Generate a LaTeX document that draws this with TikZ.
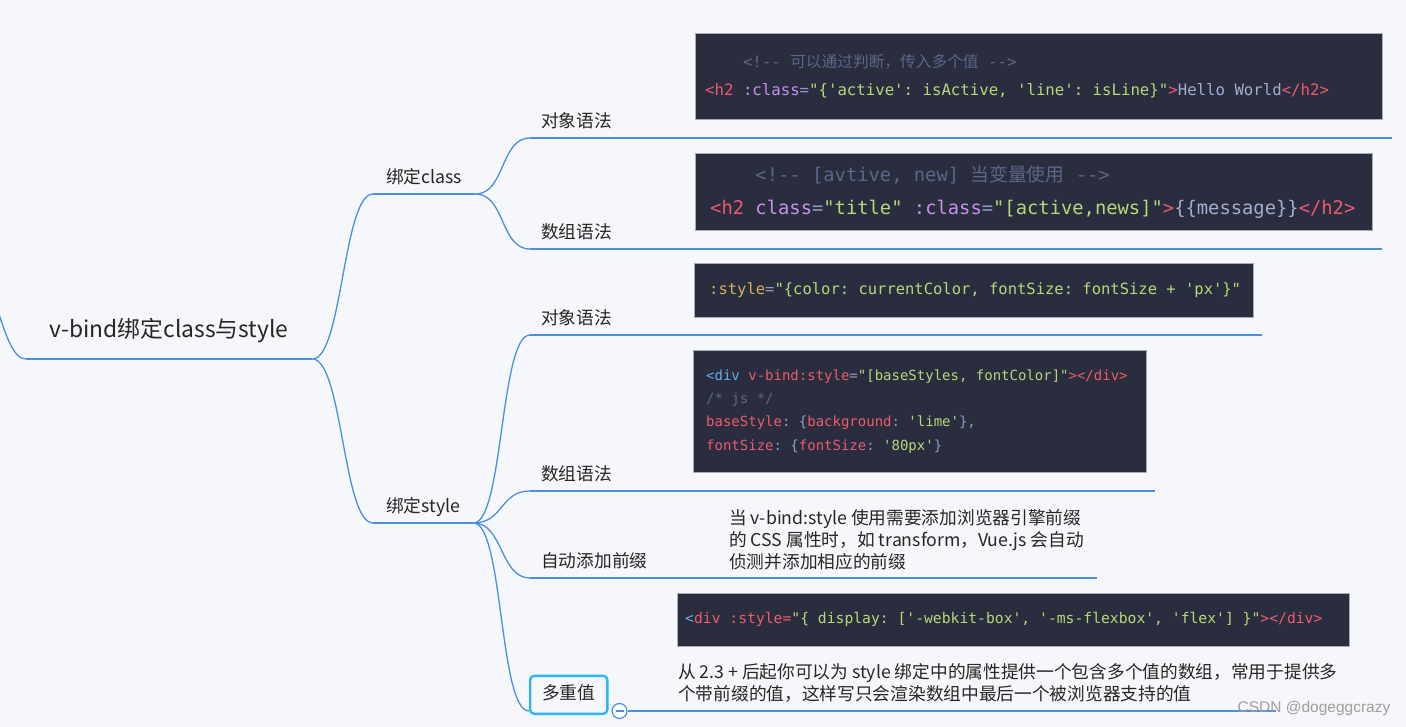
\documentclass[tikz,border=0pt]{standalone}
\usepackage{fontspec}
\setmainfont{Noto Sans CJK SC}
\setmonofont{DejaVu Sans Mono}
\newfontfamily\cjk{Noto Sans CJK SC}
\newfontfamily\wmfont{Liberation Sans}
\usetikzlibrary{positioning}

\definecolor{bgcol}{HTML}{F6F7FA}
\definecolor{linecol}{HTML}{4A8FE0}
\definecolor{labelcol}{HTML}{262626}
\definecolor{selcol}{HTML}{2DB7F5}
\definecolor{codebg}{HTML}{292D3E}
\definecolor{codeedge}{HTML}{A9ABB5}
\definecolor{ccomcol}{HTML}{5E6687}
\definecolor{credcol}{HTML}{EF5A6F}
\definecolor{cpurcol}{HTML}{C792EA}
\definecolor{cgrecol}{HTML}{B8D87A}
\definecolor{ctxtcol}{HTML}{A6ACCD}
\definecolor{cblucol}{HTML}{5FAEEA}
\definecolor{cgolcol}{HTML}{D6B25E}
\definecolor{cpuncol}{HTML}{8F9BC4}

\newcommand{\ccom}[1]{\textcolor{ccomcol}{#1}}
\newcommand{\ctag}[1]{\textcolor{credcol}{#1}}
\newcommand{\cattr}[1]{\textcolor{cpurcol}{#1}}
\newcommand{\cstr}[1]{\textcolor{cgrecol}{#1}}
\newcommand{\ctxt}[1]{\textcolor{ctxtcol}{#1}}
\newcommand{\cblu}[1]{\textcolor{cblucol}{#1}}
\newcommand{\ckey}[1]{\textcolor{cgolcol}{#1}}
\newcommand{\cpun}[1]{\textcolor{cpuncol}{#1}}

\begin{document}
\begin{tikzpicture}[x=1pt, y=-1pt,
    branch/.style={draw=linecol, line width=1.3pt},
    topic/.style={font=\fontsize{17.7}{22}\selectfont, text=labelcol, inner xsep=13pt, inner ysep=6.5pt,
      text height=13pt, text depth=4pt, anchor=south west},
    leaf/.style={topic, inner xsep=11pt, text width=#1, align=left},
    rootnode/.style={topic, font=\fontsize{22.8}{27}\selectfont, inner xsep=24pt, inner ysep=16pt,
      text height=16pt, text depth=5pt, anchor=south},
    selbox/.style={topic, draw=selcol, line width=2.4pt, rounded corners=4pt, fill=bgcol,
      minimum height=38pt, inner xsep=12pt, inner ysep=0pt},
    fold/.style={circle, draw=linecol, line width=1.2pt, fill=white, minimum size=15pt, inner sep=0pt,
      path picture={\draw[linecol, line width=1.2pt] ([xshift=3.5pt]path picture bounding box.west)
        -- ([xshift=-3.5pt]path picture bounding box.east);}},
    imgbox/.style={fill=codebg, draw=codeedge, line width=0.6pt, anchor=north west, inner sep=0pt},
    code/.style={align=left, inner sep=0pt},
    desc/.style={font=\fontsize{17.7}{22}\selectfont, text=labelcol, align=left, anchor=north west, inner sep=0pt}]

  \useasboundingbox (0,0) rectangle (1406,727);
  \fill[bgcol] (0,0) rectangle (1406,727);
  \clip (0,0) rectangle (1406,727);

  % topics
  \node[rootnode] (root) at (169,359) {v-bind绑定class与style};
  \node[topic] (cls) at (373,194) {绑定class};
  \node[topic] (sty) at (373,523) {绑定style};
  \node[leaf=840pt] (cobj) at (530,138) {对象语法};
  \node[leaf=830pt] (carr) at (530,249) {数组语法};
  \node[leaf=710pt] (sobj) at (530,335) {对象语法};
  \node[leaf=603pt] (sarr) at (530,491) {数组语法};
  \node[leaf=545pt] (spre) at (530,578) {自动添加前缀};
  \coordinate (parent) at (-30,262);

  % underlines and branches
  \foreach \n in {root,cls,sty,cobj,carr,sobj,sarr,spre}
    \draw[branch] (\n.south west) -- (\n.south east);
  \draw[branch] (root.south west) .. controls +(-24,0) and +(24,0) .. (parent);
  \foreach \a/\b in {root/cls,root/sty,cls/cobj,cls/carr,sty/sobj,sty/sarr,sty/spre}
    \draw[branch] (\a.south east) .. controls +(30,0) and +(-30,0) .. (\b.south west);

  \node[selbox] (smul) at (529,715) {多重值};
  \draw[branch] (sty.south east) .. controls +(30,0) and +(-30,0) .. ([yshift=4pt]smul.south west);
  \node[fold] (fold) at (619.5,711) {};
  \draw[branch] (fold.east) -- ++(648,0);

  % code pictures
  \node[imgbox, minimum width=687pt, minimum height=86pt] (img1) at (695,33) {};
  \node[code, right=10pt of img1.west, font=\ttfamily\fontsize{15.7}{28}\selectfont] (code1)
    {\phantom{xxxx}\ccom{<!-- {\cjk 可以通过判断，传入多个值} -->}\\\ctag{<h2} \cattr{:class}\cpun{=}\cstr{"\{'active': isActive, 'line': isLine\}"}\ctag{>}\ctxt{Hello World}\ctag{</h2>}};

  \node[imgbox, minimum width=677pt, minimum height=77pt] (img2) at (695,153) {};
  \node[code, right=15pt of img2.west, font=\ttfamily\fontsize{18.8}{33}\selectfont] (code2)
    {\phantom{xxxx}\ccom{<!-- [avtive, new] {\cjk 当变量使用} -->}\\\ctag{<h2} \cattr{class}\cpun{=}\cstr{"title"} \cattr{:class}\cpun{=}\cstr{"[active,news]"}\ctag{>}\ctxt{\{\{message\}\}}\ctag{</h2>}};

  \node[imgbox, minimum width=559pt, minimum height=54pt] (img3) at (694,263) {};
  \node[code, right=15pt of img3.west, font=\ttfamily\fontsize{15.5}{20}\selectfont] (code3)
    {\ckey{:style}\cpun{=}\cstr{"\{color: currentColor, fontSize: fontSize + 'px'\}"}};

  \node[imgbox, minimum width=453pt, minimum height=122pt] (img4) at (693,350) {};
  \node[code, right=13pt of img4.west, font=\ttfamily\fontsize{14}{23.3}\selectfont] (code4)
    {\cblu{<div} \ctag{v-bind:style}\cpun{=}\cstr{"[baseStyles, fontColor]"}\ctag{></div>}\\\ccom{/* js */}\\\ctag{baseStyle}\cpun{: \{}\ctag{background}\cpun{:} \cstr{'lime'}\cpun{\},}\\\ctag{fontSize}\cpun{: \{}\ctag{fontSize}\cpun{:} \cstr{'80px'}\cpun{\}}};

  \node[imgbox, minimum width=672pt, minimum height=53pt] (img5) at (677,593) {};
  \node[code, right=8pt of img5.west, font=\ttfamily\fontsize{14.7}{20}\selectfont] (code5)
    {\cblu{<}\ctag{div :style=}\cstr{"\{ display: ['-webkit-box', '-ms-flexbox', 'flex'] \}"}\ctag{></div>}};

  % notes
  \node[desc] (dpre) at (729,509) {当 v-bind:style 使用需要添加浏览器引擎前缀\\的 CSS 属性时，如 transform，Vue.js 会自动\\侦测并添加相应的前缀};
  \node[desc] (dmul) at (678,663) {从 2.3 + 后起你可以为 style 绑定中的属性提供一个包含多个值的数组，常用于提供多\\个带前缀的值，这样写只会渲染数组中最后一个被浏览器支持的值};

  \node[font=\wmfont\fontsize{15.5}{18}\selectfont, text=gray!75] (mark) at (1314,708) {CSDN @dogeggcrazy};
\end{tikzpicture}
\end{document}
